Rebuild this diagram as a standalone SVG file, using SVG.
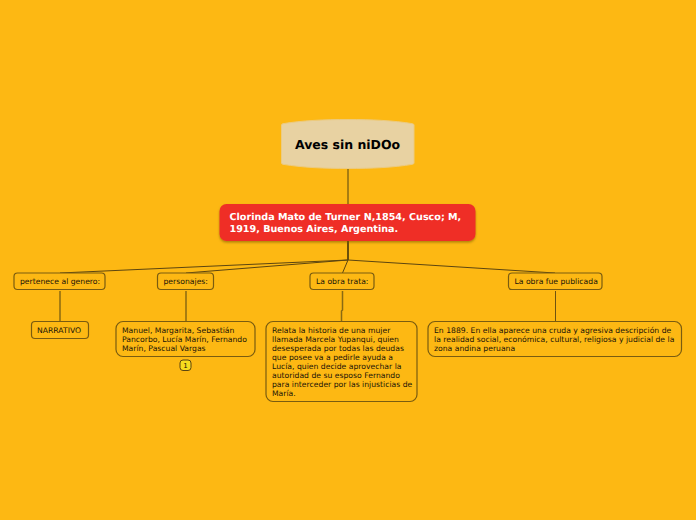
<svg xmlns="http://www.w3.org/2000/svg" width="696" height="520" viewBox="0 0 696 520">
<style>
text{font-family:"DejaVu Sans",sans-serif;font-size:7.68px;fill:#1a1408;text-rendering:geometricPrecision}
.b{fill:#fdb813;stroke:#7a5c10;stroke-width:1.2}
.l{fill:none;stroke:#5c4510;stroke-width:1}
.v{fill:none;stroke:#8a6a12;stroke-width:1.5}
</style>
<defs><filter id="s" x="-5%" y="-10%" width="110%" height="125%"><feDropShadow dx="0" dy="1.5" stdDeviation="1" flood-color="#7a5a00" flood-opacity="0.6"/></filter></defs>
<rect width="696" height="520" fill="#fdb813"/>
<g id="connectors">
<path class="v" d="M348 168V204"/>
<path d="M348 241V260" fill="none" stroke="#3a2c08" stroke-width="1.5"/>
<path class="l" d="M348 260L60 273M348 260L186 273M348 260L342.500 273M348 260L555 273"/>
<path class="v" d="M60 291V322M186 291V322M342.500 291V310L341.500 311V322"/>
<path d="M555.500 291V322" fill="none" stroke="#6e5310" stroke-width="1"/>
</g>
<g id="root">
<path d="M281.500 125Q281.500 124 283 123.700C302 120.500 325 119.500 348 119.500C371 119.500 394 120.500 412.500 123.700Q414 124 414 125V163Q414 164 412.500 164.300C394 167.500 371 168.500 348 168.500C325 168.500 302 167.500 283 164.300Q281.500 164 281.500 163Z" fill="#e8d2a2" stroke="#eccb80" stroke-width="1"/>
<text x="347.500" y="149" text-anchor="middle" style="font-size:12.48px;font-weight:700;fill:#000">Aves sin niDOo</text>
</g>
<g id="main">
<rect x="219.500" y="204" width="256" height="37" rx="7" fill="#ef2e26" filter="url(#s)"/>
<text style="font-size:9.6px;font-weight:700;fill:#fff"><tspan x="229.500" y="220">Clorinda Mato de Turner N,1854, Cusco; M,</tspan><tspan x="229.500" y="232">1919, Buenos Aires, Argentina.</tspan></text>
</g>
<g id="n1"><rect class="b" x="14" y="273" width="91" height="16.500" rx="3.500"/><text x="20" y="284">pertenece al genero:</text></g>
<g id="n2"><rect class="b" x="157.500" y="273" width="56" height="16.500" rx="3.500"/><text x="163.500" y="284">personajes:</text></g>
<g id="n3"><rect class="b" x="310" y="273" width="64" height="16.500" rx="3.500"/><text x="316" y="284">La obra trata:</text></g>
<g id="n4"><rect class="b" x="508.500" y="273" width="93.500" height="16.500" rx="3.500"/><text x="514.500" y="284">La obra fue publicada</text></g>
<g id="n5"><rect class="b" x="31.500" y="321.500" width="57" height="17" rx="3.500"/><text x="37" y="333">NARRATIVO</text></g>
<g id="n6"><rect class="b" x="116" y="321.500" width="139" height="35" rx="7"/><text><tspan x="122" y="333">Manuel, Margarita, Sebastián</tspan><tspan x="122" y="342">Pancorbo, Lucía Marín, Fernando</tspan><tspan x="122" y="351">Marín, Pascual Vargas</tspan></text></g>
<g id="badge"><rect x="180" y="360" width="11" height="10.500" rx="3" fill="#f7dc1e" stroke="#5c4510" stroke-width="1"/><text x="185.500" y="368" text-anchor="middle" style="font-size:7px">1</text></g>
<g id="n7"><rect class="b" x="266" y="321.500" width="151" height="80" rx="7"/><text><tspan x="272" y="333">Relata la historia de una mujer</tspan><tspan x="272" y="342">llamada Marcela Yupanqui, quien</tspan><tspan x="272" y="351">desesperada por todas las deudas</tspan><tspan x="272" y="360">que posee va a pedirle ayuda a</tspan><tspan x="272" y="369">Lucía, quien decide aprovechar la</tspan><tspan x="272" y="378">autoridad de su esposo Fernando</tspan><tspan x="272" y="387">para interceder por las injusticias de</tspan><tspan x="272" y="396">María.</tspan></text></g>
<g id="n8"><rect class="b" x="428" y="321.500" width="253.500" height="35" rx="7"/><text><tspan x="434" y="333">En 1889. En ella aparece una cruda y agresiva descripción de</tspan><tspan x="434" y="342">la realidad social, económica, cultural, religiosa y judicial de la</tspan><tspan x="434" y="351">zona andina peruana</tspan></text></g>
</svg>
